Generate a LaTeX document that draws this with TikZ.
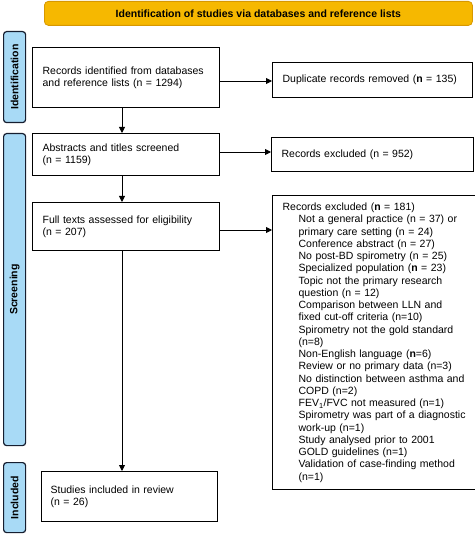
\documentclass[tikz,border=0pt]{standalone}
\usepackage{fontspec}
\setmainfont{Liberation Sans}
\usetikzlibrary{arrows.meta}
\definecolor{bannerfill}{RGB}{246,184,0}
\definecolor{bannerdraw}{RGB}{215,152,0}
\definecolor{labelfill}{RGB}{168,218,246}
\definecolor{labeldraw}{RGB}{22,30,48}
\begin{document}
\begin{tikzpicture}[x=1pt,y=-1pt,
  every node/.style={font=\fontsize{10.5}{12.25}\selectfont},
  box/.style={draw=black, line width=1.3pt, fill=white, anchor=north west, inner xsep=10pt, inner ysep=0pt, align=left},
  sidelabel/.style={draw=labeldraw, line width=1.2pt, fill=labelfill, rounded corners=3pt, anchor=north west, minimum width=22pt, inner sep=0pt},
  sidetext/.style={rotate=90, font=\fontsize{10.5}{12}\selectfont\bfseries},
  arr/.style={line width=0.9pt, -{Triangle[length=6pt,width=6pt]}}
]
\useasboundingbox (0,0) rectangle (474,534);

% banner
\node[draw=bannerdraw, line width=0.8pt, fill=bannerfill, rounded corners=4pt, anchor=north west,
  minimum width=428pt, minimum height=24pt, inner sep=0pt,
  font=\fontsize{10.5}{12}\selectfont\bfseries] (banner) at (44,1)
  {Identification of studies via databases and reference lists};

% side labels
\node[sidelabel, minimum height=91pt] (lid) at (3,31) {};
\node[sidetext] at (lid.center) {Identification};
\node[sidelabel, minimum height=312pt] (lsc) at (3,133) {};
\node[sidetext] at (lsc.center) {Screening};
\node[sidelabel, minimum height=70pt] (lin) at (3,462) {};
\node[sidetext] at (lin.center) {Included};

% main boxes
\node[box, minimum width=187pt, minimum height=60pt, text width=167pt] (b1) at (32,47)
  {Records identified from databases\\and reference lists (n = 1294)};
\node[box, minimum width=187pt, minimum height=42pt, text width=167pt] (b2) at (32,133)
  {Abstracts and titles screened\\(n = 1159)};
\node[box, minimum width=187pt, minimum height=48pt, text width=167pt] (b3) at (32,202)
  {Full texts assessed for eligibility\\(n = 207)};
\node[box, minimum width=176pt, minimum height=50pt, text width=158pt, inner xsep=9pt] (b4) at (41,471)
  {Studies included in review\\(n = 26)};

% side boxes
\node[box, minimum width=200pt, minimum height=35pt, text width=180pt] (d1) at (272,62)
  {Duplicate records removed (\textbf{n} = 135)};
\node[box, minimum width=202pt, minimum height=34pt, text width=182pt] (d2) at (271,137)
  {Records excluded (n = 952)};
\node[box, minimum width=201pt, minimum height=294pt, text width=185pt, inner xsep=10pt] (d3) at (272,195)
  {Records excluded (\textbf{n} = 181)\\
  \hspace*{16pt}Not a general practice (n = 37) or\\
  \hspace*{16pt}primary care setting (n = 24)\\
  \hspace*{16pt}Conference abstract (n = 27)\\
  \hspace*{16pt}No post-BD spirometry (n = 25)\\
  \hspace*{16pt}Specialized population (\textbf{n} = 23)\\
  \hspace*{16pt}Topic not the primary research\\
  \hspace*{16pt}question (n = 12)\\
  \hspace*{16pt}Comparison between LLN and\\
  \hspace*{16pt}fixed cut-off criteria (n=10)\\
  \hspace*{16pt}Spirometry not the gold standard\\
  \hspace*{16pt}(n=8)\\
  \hspace*{16pt}Non-English language (\textbf{n}=6)\\
  \hspace*{16pt}Review or no primary data (n=3)\\
  \hspace*{16pt}No distinction between asthma and\\
  \hspace*{16pt}COPD (n=2)\\
  \hspace*{16pt}FEV\textsubscript{1}/FVC not measured (n=1)\\
  \hspace*{16pt}Spirometry was part of a diagnostic\\
  \hspace*{16pt}work-up (n=1)\\
  \hspace*{16pt}Study analysed prior to 2001\\
  \hspace*{16pt}GOLD guidelines (n=1)\\
  \hspace*{16pt}Validation of case-finding method\\
  \hspace*{16pt}(n=1)};

% arrows
\draw[arr] (b1.south -| 122,0) -- (b2.north -| 122,0);
\draw[arr] (b2.south -| 122,0) -- (b3.north -| 122,0);
\draw[arr] (b3.south -| 122,0) -- (b4.north -| 122,0);
\draw[arr] (b1.east |- 0,81) -- (d1.west |- 0,81);
\draw[arr] (b2.east |- 0,152) -- (d2.west |- 0,152);
\draw[arr] (b3.east |- 0,230) -- (d3.west |- 0,230);
\end{tikzpicture}
\end{document}
